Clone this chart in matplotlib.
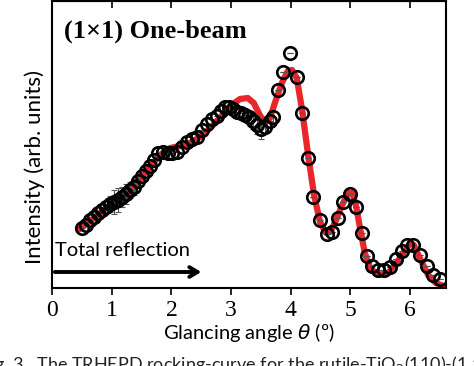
import matplotlib
matplotlib.use("Agg")
import matplotlib.pyplot as plt
import numpy as np

# measured data (circles)
theta_data = [0.50, 0.57, 0.64, 0.70, 0.77, 0.84, 0.90, 0.97, 1.04, 1.11, 1.17, 1.24, 1.31,
              1.37, 1.44, 1.51, 1.57, 1.64, 1.71, 1.78, 1.86, 1.94, 2.01, 2.09, 2.18, 2.26,
              2.35, 2.43, 2.51, 2.60, 2.68, 2.76, 2.83, 2.90, 2.96, 3.03, 3.10, 3.17, 3.23,
              3.30, 3.37, 3.43, 3.50, 3.57, 3.65, 3.71, 3.79, 3.87, 3.99, 4.10, 4.19, 4.29,
              4.37, 4.49, 4.61, 4.69, 4.79, 4.87, 4.99, 5.09, 5.19, 5.28, 5.36, 5.46, 5.56,
              5.66, 5.76, 5.86, 5.95, 6.05, 6.16, 6.28, 6.38, 6.50]
intensity_data = [60, 63, 68, 71, 75, 78, 81, 84, 86, 88, 91, 94, 98,
                  101, 107, 112, 117, 122, 128, 135, 136, 135, 135, 136, 141, 146,
                  149, 151, 158, 164, 169, 172, 177, 181, 181, 179, 176, 175, 173,
                  171, 167, 163, 159, 161, 167, 171, 198, 216, 235, 211, 175, 130,
                  91, 68, 54, 56, 70, 86, 94, 81, 55, 32, 22, 18, 18,
                  21, 29, 37, 43, 43, 33, 22, 13, 9]
error_data = [0, 0, 0, 0, 0, 0, 0, 8, 12, 12, 10, 10, 8,
              8, 6, 0, 0, 0, 0, 0, 0, 0, 0, 0, 0, 0,
              5, 0, 0, 0, 0, 0, 0, 0, 0, 0, 0, 0, 0,
              6, 8, 9, 10, 6, 0, 6, 0, 0, 0, 0, 0, 0,
              0, 0, 0, 0, 0, 0, 0, 0, 0, 0, 0, 0, 0,
              0, 0, 0, 0, 0, 0, 0, 0, 0]

# calculated rocking curve (red line)
theta_calc = [0.44, 0.64, 0.97, 1.31, 1.64, 1.81, 1.98, 2.14, 2.31, 2.48, 2.65, 2.81, 2.98,
              3.15, 3.28, 3.38, 3.48, 3.57, 3.65, 3.75, 3.85, 3.95, 4.02, 4.10, 4.19, 4.29,
              4.39, 4.49, 4.59, 4.66, 4.76, 4.86, 4.96, 5.03, 5.09, 5.16, 5.24, 5.33, 5.46,
              5.63, 5.76, 5.90, 6.00, 6.06, 6.16, 6.30, 6.43, 6.60]
intensity_calc = [58, 67, 83, 97, 121, 133, 140, 142, 145, 151, 160, 170, 182,
                  189, 190, 185, 173, 165, 170, 188, 205, 217, 218, 210, 178, 133,
                  93, 66, 55, 56, 68, 83, 95, 95, 83, 60, 35, 20, 13,
                  15, 24, 36, 45, 43, 30, 13, 5, 1]

xticks = [0, 1, 2, 3, 4, 5, 6]

fig = plt.figure(figsize=(4.74, 3.66), dpi=100)
ax = fig.add_axes([52/474, 1 - 288/366, (446-52)/474, 287/366])

ax.plot(theta_calc, intensity_calc, color='#e8262b', lw=4.5, solid_capstyle='round', zorder=2)
ax.errorbar(theta_data, intensity_data, yerr=error_data, fmt='none', ecolor='#555555',
            elinewidth=0.8, capsize=2, capthick=0.8, zorder=3)
ax.plot(theta_data, intensity_data, 'o', mfc='none', mec='black', ms=9, mew=1.9, zorder=4)

ax.set_xlim(0, 6.6)
ax.set_ylim(0, 287)
ax.set_xticks(xticks)
ax.set_xticklabels([str(t) for t in xticks], family='Liberation Serif', fontsize=17)
ax.set_yticks([])
ax.tick_params(axis='x', direction='out', length=5, width=1.2, pad=4, top=False)
ax.secondary_xaxis('top').tick_params(direction='in', length=5, width=1.2, labeltop=False)
for s in ax.spines.values():
    s.set_linewidth(1.5)

ax.set_xlabel('Glancing angle $\\theta$ (º)', family='Lato', fontsize=14.5, labelpad=0)
ax.set_ylabel('Intensity (arb. units)', family='Lato', fontsize=16)
ax.yaxis.set_label_coords(-0.017, 0.42)

ax.text(0.03, 0.935, '(1×1) One-beam', transform=ax.transAxes, family='Liberation Serif',
        fontweight='bold', fontsize=19, ha='left', va='top')
ax.text(0.008, 0.10, 'Total reflection', transform=ax.transAxes, family='Lato',
        fontsize=14.5, ha='left', va='bottom')
ax.annotate('', xy=(2.55, 16), xytext=(0.0, 16),
            arrowprops=dict(arrowstyle='->,head_length=0.6,head_width=0.35', lw=2.8, color='black'))

fig.text(-0.012, 1 - 354/366, 'g. 3   The TRHEPD rocking-curve for the rutile-TiO$_2$(110)-(1 × 1) surfa',
         family='Lato', fontsize=13, color='#222222', ha='left', va='top')

fig.savefig('out.png', dpi=100)
